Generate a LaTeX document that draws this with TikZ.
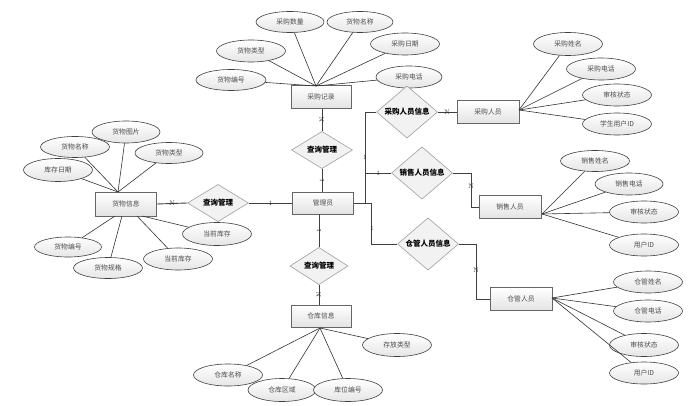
\documentclass[tikz,border=0pt]{standalone}
\usepackage{fontspec}
\newfontfamily\cjk{Noto Sans CJK SC}
\usetikzlibrary{shapes.geometric}
\tikzset{
  ent/.style={draw=black!60, line width=0.7pt, top color=white, bottom color=gray!22, minimum width=61pt, minimum height=23pt, inner sep=0pt, font=\cjk\fontsize{6.8}{7}\selectfont, text=black!70},
  att/.style={ellipse, draw=black!75, line width=0.6pt, top color=white, bottom color=gray!20, minimum width=69pt, minimum height=22pt, inner sep=0pt, font=\cjk\fontsize{6.8}{7}\selectfont, text=black!70},
  rel/.style={diamond, draw=gray!75, line width=0.6pt, fill=gray!10, minimum width=61pt, minimum height=34pt, inner sep=0pt, font=\cjk\bfseries\fontsize{7.5}{8}\selectfont, text=black},
  lk/.style={draw=black!80, line width=0.6pt},
  rk/.style={draw=black!75, line width=0.9pt},
  card/.style={font=\fontsize{6.5}{7}\selectfont, inner sep=0.5pt, text=black!85},
}
\begin{document}
\begin{tikzpicture}[x=1pt,y=-1pt]
\useasboundingbox[fill=white] (0,0) rectangle (695,406);

% 采购记录 cluster
\node[ent, minimum width=60pt] (cgjl) at (321,97) {采购记录};
\node[att, minimum width=68pt, minimum height=21pt] (a1) at (290,22) {采购数量};
\node[att, minimum width=66pt, minimum height=21pt] (a2) at (360,22) {货物名称};
\node[att] (a3) at (405,44) {采购日期};
\node[att] (a4) at (251,51) {货物类型};
\node[att, minimum width=70pt, minimum height=21pt] (a5) at (231,80) {货物编号};
\node[att, minimum width=66pt] (a6) at (409,77) {采购电话};
\coordinate (cp1) at (316,86);
\foreach \n in {a1,a2,a3,a4,a5,a6} \draw[lk] (cp1) -- (\n);

% 采购人员 cluster
\node[ent, minimum width=62pt] (cgry) at (488,112) {采购人员};
\node[att, minimum height=23pt] (b1) at (568,44) {采购姓名};
\node[att] (b2) at (601,69) {采购电话};
\node[att] (b3) at (617,95) {审核状态};
\node[att] (b4) at (617,124) {学生用户ID};
\coordinate (cp2) at (519,110);
\foreach \n in {b1,b2,b3,b4} \draw[lk] (cp2) -- (\n);

% 销售人员 cluster
\node[ent, minimum width=62pt] (xsry) at (510,207) {销售人员};
\node[att, minimum height=21pt] (c1) at (595,161) {销售姓名};
\node[att, minimum width=68pt] (c2) at (629,184) {销售电话};
\node[att] (c3) at (644,212) {审核状态};
\node[att] (c4) at (644,245) {用户ID};
\coordinate (cp3) at (542,214);
\foreach \n in {c1,c2,c3,c4} \draw[lk] (cp3) -- (\n);

% 仓管人员 cluster
\node[ent, minimum width=62pt] (cgry2) at (521,299) {仓管人员};
\node[att] (d1) at (648,282) {仓管姓名};
\node[att] (d2) at (648,311) {仓管电话};
\node[att, minimum height=23pt] (d3) at (644,345) {审核状态};
\node[att] (d4) at (644,373) {用户ID};
\coordinate (cp4) at (552,298);
\foreach \n in {d1,d2,d3,d4} \draw[lk] (cp4) -- (\n);

% 仓库信息 cluster
\node[ent, minimum width=60pt, minimum height=22pt] (ckxx) at (321,316) {仓库信息};
\node[att, minimum height=23pt] (e1) at (397,345) {存放类型};
\node[att] (e2) at (228,375) {仓库名称};
\node[att, minimum width=68pt, minimum height=23pt] (e3) at (282,390) {仓库区域};
\node[att, minimum height=23pt] (e4) at (348,390) {库位编号};
\coordinate (cp5) at (320,328);
\foreach \n in {e1,e2,e3,e4} \draw[lk] (cp5) -- (\n);

% 货物信息 cluster
\node[ent, minimum height=24pt] (hwxx) at (126,204) {货物信息};
\node[att, minimum width=68pt] (f1) at (126,132) {货物图片};
\node[att, minimum height=21pt] (f2) at (75,147) {货物名称};
\node[att, minimum width=68pt, minimum height=21pt] (f3) at (169,153) {货物类型};
\node[att, minimum height=23pt] (f4) at (58,170) {库存日期};
\node[att, minimum width=67pt, minimum height=20pt] (f5) at (68,247) {货物编号};
\node[att, minimum height=21pt] (f6) at (108,268) {货物规格};
\node[att] (f7) at (178,259) {当前库存};
\node[att, minimum height=23pt] (f8) at (217,234) {当前库存};
\coordinate (cp6) at (118,192);
\foreach \n in {f1,f2,f3,f4} \draw[lk] (cp6) -- (\n);
\coordinate (g5) at (115,216);
\coordinate (g6) at (122,216);
\coordinate (g7) at (137,216);
\coordinate (g8) at (142,216);
\draw[lk] (g5) -- (f5);
\draw[lk] (g6) -- (f6);
\draw[lk] (g7) -- (f7);
\draw[lk] (g8) -- (f8);

% 管理员 and relations
\node[ent, minimum height=22pt] (gly) at (323,203) {管理员};
\node[rel] (q1) at (322,150) {查询管理};
\node[rel, minimum width=58pt, minimum height=35pt] (q2) at (319,266) {查询管理};
\node[rel] (q3) at (218,203) {查询管理};
\node[rel] (r1) at (407,112) {采购人员信息};
\node[rel] (r2) at (422,173) {销售人员信息};
\node[rel, minimum height=35pt] (r3) at (428,244) {仓管人员信息};

% central column
\draw[rk] (cgjl.south -| q1.north) -- node[card, rotate=90] {N} (q1.north);
\draw[rk] (q1.south) -- node[card, rotate=90] {1} (q1.south |- gly.north);
\draw[rk] (q2.north |- gly.south) -- node[card, rotate=90] {1} (q2.north);
\draw[rk] (q2.south) -- node[card, rotate=90] {N} (q2.south |- ckxx.north);

% left
\draw[rk] (hwxx.east) -- node[card] {N} (q3.west);
\draw[rk] (q3.east) -- node[card] {1} (gly.west);

% right branches
\coordinate (j1) at (365,203);
\coordinate (j2) at (371,203);
\coordinate (j3) at (471,173);
\coordinate (j4) at (476,244);
\draw[rk] (gly.east) -- (j1) |- (r1.west);
\node[card] at (365,157) {1};
\draw[rk] (j1 |- r2.west) -- node[card] {1} (r2.west);
\draw[rk] (j1) -- (j2) |- (r3.west);
\node[card] at (372,228) {1};
\draw[rk] (r1.east) -- node[card] {N} (cgry.west);
\draw[rk] (r2.east) -- (j3) |- (xsry.west);
\node[card] at (471,186) {N};
\draw[rk] (r3.east) -- (j4) |- (cgry2.west);
\node[card] at (476,270) {N};
\end{tikzpicture}
\end{document}
